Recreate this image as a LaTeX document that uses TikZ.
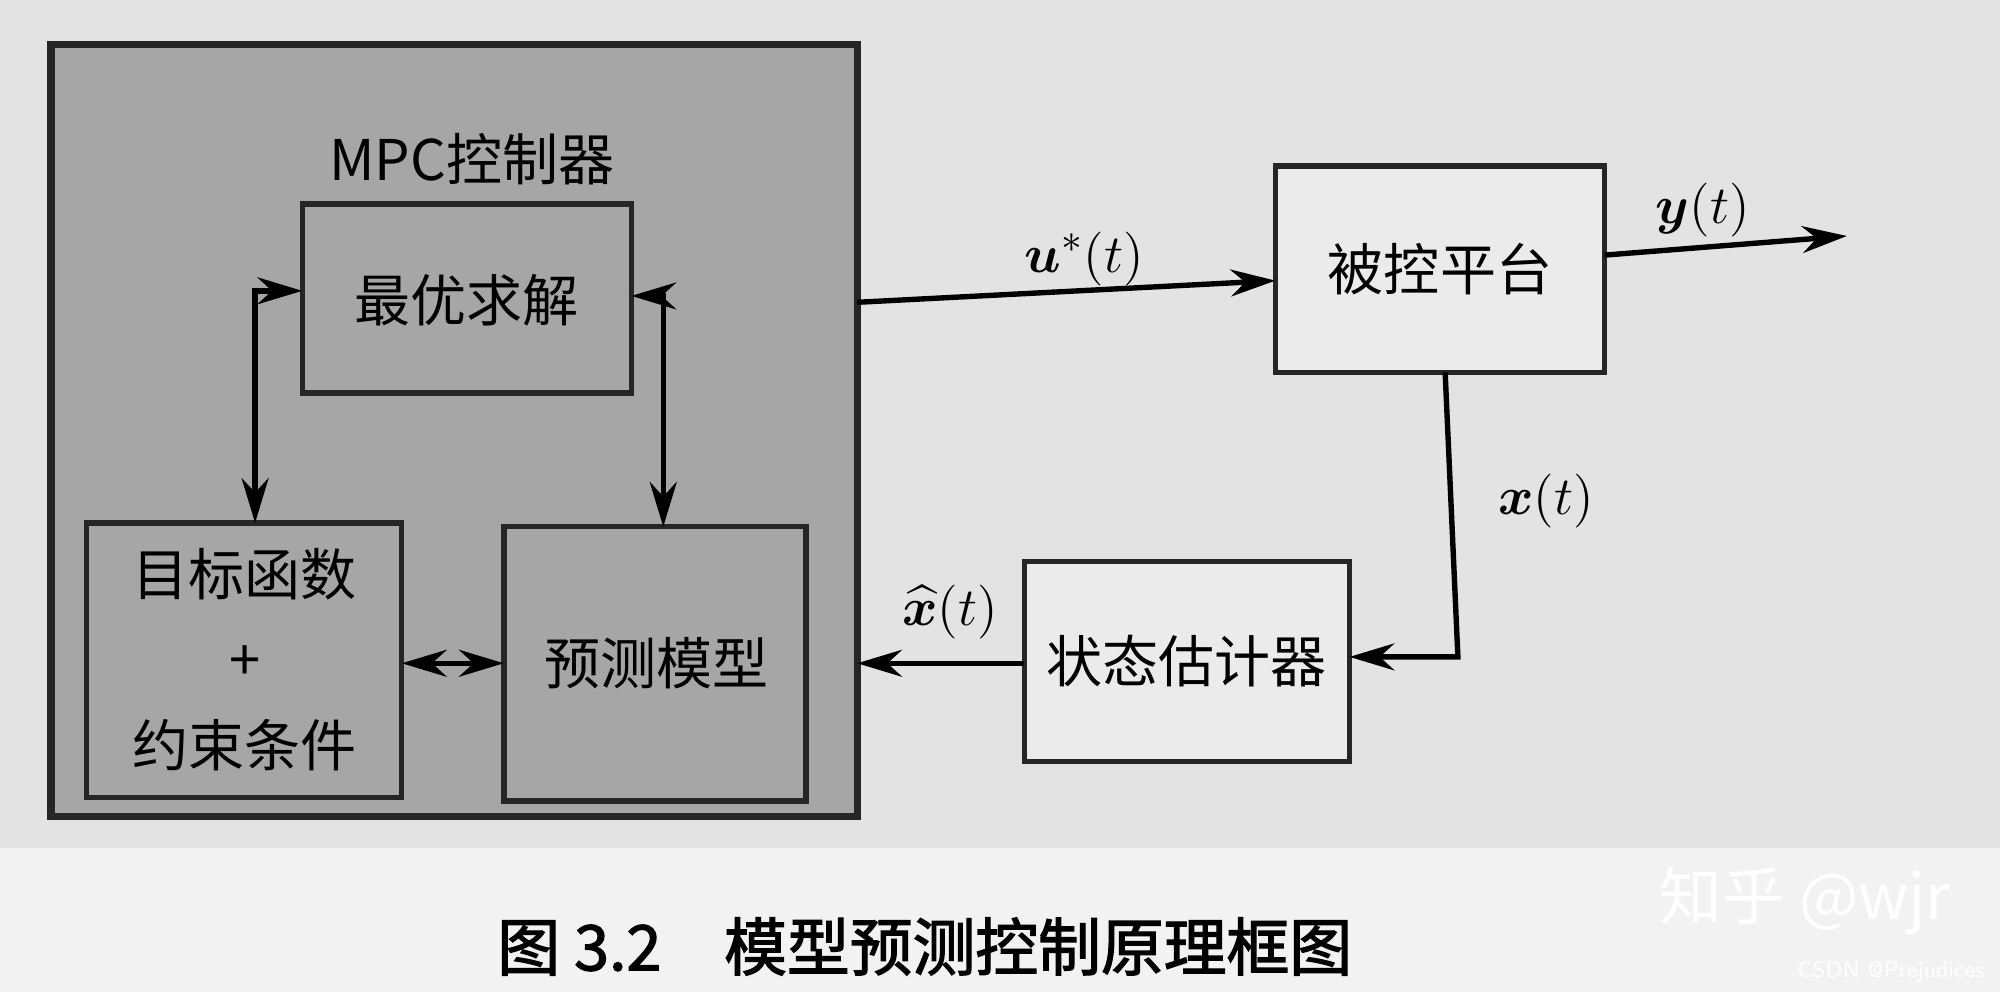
\documentclass[tikz,border=0pt]{standalone}
\usepackage{fontspec}
\usepackage{amsmath,bm}
\newfontfamily\cjk{Noto Sans CJK SC}
\newfontfamily\cjkb{Noto Sans CJK SC}[FakeBold=2]
\usetikzlibrary{arrows.meta}
\begin{document}
\begin{tikzpicture}[x=0.01cm,y=-0.01cm,
  blk/.style={draw=black!85,line width=1.2pt,fill=black!35},
  wbox/.style={draw=black!85,line width=1.2pt,fill=black!8},
  conn/.style={line width=1.2pt,-{Stealth[length=10pt,width=6pt]}},
  bconn/.style={line width=1.2pt,{Stealth[length=10pt,width=6pt]}-{Stealth[length=10pt,width=6pt]}},
  lbl/.style={font=\cjk\fontsize{12.5pt}{15pt}\selectfont},
  ml/.style={font=\fontsize{13pt}{16pt}\selectfont}]
\useasboundingbox (0,0) rectangle (1568,778);
\fill[black!11] (0,0) rectangle (1568,778);
\fill[black!5] (0,665) rectangle (1568,778);
\draw[blk,line width=1.6pt] (40,35) rectangle (672,640);
\node[lbl] (mpc) at (370,125) {MPC控制器};
\draw[blk] (237,160) rectangle (495,308);
\node[lbl] (opt) at (366,235) {最优求解};
\draw[blk] (68,410) rectangle (315,625);
\node[lbl,align=center] (obj) at (192,517) {目标函数\\[4pt]+\\[4pt]约束条件};
\draw[blk] (395,413) rectangle (632,628);
\node[lbl] (pm) at (515,520) {预测模型};
\draw[wbox] (1000,130) rectangle (1258,292);
\node[lbl] (plant) at (1129,211) {被控平台};
\draw[wbox] (803,440) rectangle (1058,597);
\node[lbl] (est) at (930,518) {状态估计器};
\coordinate (a1) at (237,228); \coordinate (a2) at (200,410);
\draw[bconn] (a1) -- (200,228) -- (a2);
\coordinate (b1) at (495,232); \coordinate (b2) at (520,413);
\draw[bconn] (b1) -- (520,232) -- (b2);
\coordinate (c1) at (315,520); \coordinate (c2) at (395,520);
\draw[bconn] (c1) -- (c2);
\coordinate (u1) at (672,237); \coordinate (u2) at (1000,220);
\draw[conn] (u1) -- (u2);
\node[ml] (ul) at (850,203) {$\bm{u}^{*}(t)$};
\coordinate (y1) at (1258,200); \coordinate (y2) at (1448,185);
\draw[conn] (y1) -- (y2);
\node[ml] (yl) at (1335,165) {$\bm{y}(t)$};
\coordinate (x1) at (1133,292); \coordinate (x2) at (1058,515);
\draw[conn] (x1) -- (1143,515) -- (x2);
\node[ml] (xl) at (1212,393) {$\bm{x}(t)$};
\coordinate (h1) at (803,520); \coordinate (h2) at (672,520);
\draw[conn] (h1) -- (h2);
\node[ml] (hl) at (745,480) {$\widehat{\bm{x}}(t)$};
\node[font=\cjkb\fontsize{14pt}{17pt}\selectfont] (cap) at (725,742) {图 3.2\quad 模型预测控制原理框图};
\node[font=\cjk\fontsize{14pt}{17pt}\selectfont,text=white] (wm) at (1415,706) {知乎 @wjr};
\node[font=\fontsize{5pt}{6pt}\selectfont\sffamily,text=white,anchor=east,inner sep=1pt] (cs) at (1560,762) {CSDN @Prejudices};
\end{tikzpicture}
\end{document}
